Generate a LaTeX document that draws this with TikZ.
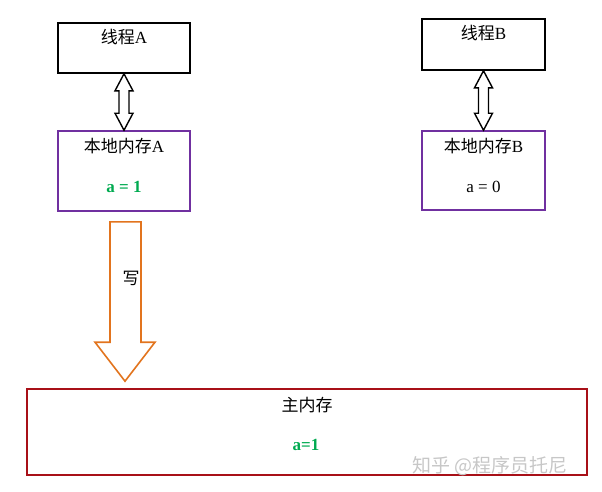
\documentclass[tikz,border=0pt]{standalone}
\usepackage{fontspec}
\setmainfont{Liberation Serif}
\newfontfamily\cjk{Noto Sans CJK SC}
\usetikzlibrary{positioning,calc}
\definecolor{boxpurple}{RGB}{112,48,160}
\definecolor{memred}{RGB}{168,16,24}
\definecolor{wrorange}{RGB}{226,116,30}
\definecolor{valgreen}{RGB}{0,170,80}
\tikzset{
  thread/.style={draw=black, line width=1.6pt, minimum width=132pt, minimum height=50pt},
  localmem/.style={draw=boxpurple, line width=1.6pt, minimum width=132pt, minimum height=80pt},
  txt/.style={inner sep=0pt, font=\fontsize{17}{20}\selectfont},
  dblarrow/.style={draw=black, line width=1.4pt, fill=white},
}
\begin{document}
\begin{tikzpicture}[x=1pt, y=-1pt]
  \useasboundingbox (0,0) rectangle (602,491);
  % thread A side
  \node[thread] (thA) at (124,48) {};
  \node[txt, below=7pt of thA.north] (thAtxt) {{\cjk 线程}A};
  \node[localmem] (memA) at (124,171) {};
  \node[txt, below=8pt of memA.north] (memAtxt) {{\cjk 本地内存}A};
  \node[txt, text=valgreen, font=\fontsize{17}{20}\selectfont\bfseries] (valA) at (124,187) {a = 1};
  % thread B side
  \node[thread, minimum width=123pt, minimum height=51pt] (thB) at (483.5,44.5) {};
  \node[txt, below=7pt of thB.north] (thBtxt) {{\cjk 线程}B};
  \node[localmem, minimum width=123pt, minimum height=79pt] (memB) at (483.5,170.5) {};
  \node[txt, below=8pt of memB.north] (memBtxt) {{\cjk 本地内存}B};
  \node[txt] (valB) at (483.5,187) {a = 0};
  % main memory
  \node[draw=memred, line width=1.6pt, minimum width=560pt, minimum height=86pt] (mainmem) at (307,432) {};
  \node[txt, below=9pt of mainmem.north] (maintxt) {\cjk 主内存};
  \node[txt, text=valgreen, font=\fontsize{17}{20}\selectfont\bfseries] (mainval) at (306,445) {a=1};
  % hollow double arrows between thread and local memory
  \draw[dblarrow] (thA.south) -- ++(9,17) -- ++(-4,0) -- ($(memA.north)+(5,-17)$) -- ++(4,0)
    -- (memA.north) -- ++(-9,-17) -- ++(4,0) -- ($(thA.south)+(-5,17)$) -- ++(-4,0) -- cycle;
  \draw[dblarrow] (thB.south) -- ++(9,17) -- ++(-4,0) -- ($(memB.north)+(5,-17)$) -- ++(4,0)
    -- (memB.north) -- ++(-9,-17) -- ++(4,0) -- ($(thB.south)+(-5,17)$) -- ++(-4,0) -- cycle;
  % write arrow down to main memory
  \coordinate (wtip) at ($(mainmem.north -| memA.south)+(1,-7)$);
  \draw[draw=wrorange, line width=1.6pt, fill=white] (wtip) -- ++(-30,-39) -- ++(15,0)
    -- ($(memA.south)+(-14,10)$) -- ++(31,0) -- ($(wtip)+(16,-39)$) -- ++(14,0) -- cycle;
  \node[txt] (wlabel) at (131,278) {\cjk 写};
  % watermark
  \node[txt, text=black!22, font=\fontsize{19}{22}\cjk] (mark) at (490,466) {知乎 @程序员托尼};
\end{tikzpicture}
\end{document}
